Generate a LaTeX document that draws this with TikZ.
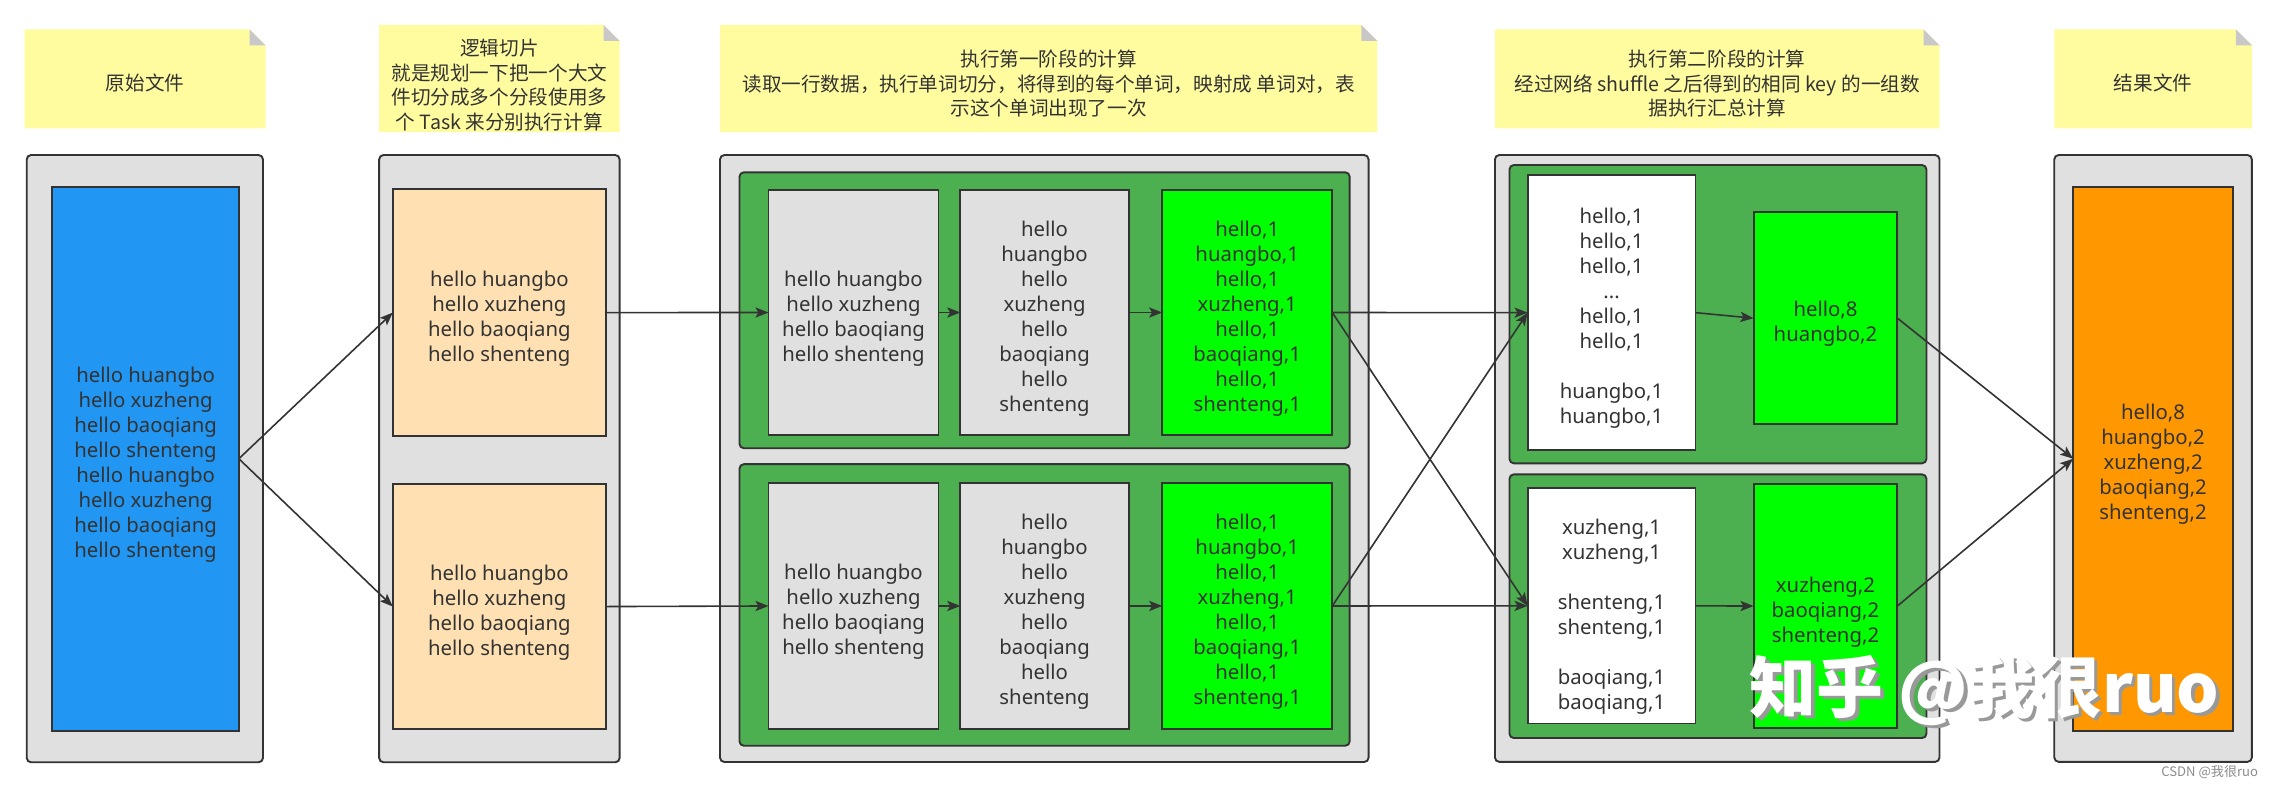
\documentclass[tikz,border=0pt]{standalone}
\usepackage{fontspec}
\setmainfont{Noto Sans}
\newfontfamily\cjk{Noto Sans CJK SC}
\usetikzlibrary{arrows.meta}
\definecolor{txt}{HTML}{333333}
\definecolor{notey}{HTML}{FFFCA0}
\definecolor{foldg}{HTML}{C8C8C8}
\definecolor{grayb}{HTML}{E0E0E0}
\definecolor{bluef}{HTML}{2196F3}
\definecolor{peach}{HTML}{FFE0B2}
\definecolor{contg}{HTML}{4CAF50}
\definecolor{brightg}{HTML}{00FF00}
\definecolor{orangef}{HTML}{FF9800}
\tikzset{
  box/.style={draw=txt, line width=1.3pt, inner sep=0pt, outer sep=0pt, text=txt,
    align=center, font=\fontsize{14}{17.2}\selectfont},
  outerbox/.style={box, fill=grayb, rounded corners=3pt},
  contbox/.style={box, fill=contg, rounded corners=3pt},
  graybox/.style={box, fill=grayb},
  bluebox/.style={box, fill=bluef},
  peachbox/.style={box, fill=peach},
  brightbox/.style={box, fill=brightg},
  whitebox/.style={box, fill=white},
  orangebox/.style={box, fill=orangef},
  notetext/.style={text=txt, align=center, inner sep=0pt, font=\cjk\fontsize{13.5}{17}\selectfont},
  conn/.style={draw=txt, line width=1.1pt, -{Stealth[length=9pt,width=7pt,inset=2pt]}},
  wmark/.style={inner sep=0pt, font=\cjk\bfseries\fontsize{46}{50}\selectfont},
}
% \rule in the first line lowers the text block a little, as in the reference
\newcommand{\mkbox}[7]{%
  \node[#6, minimum width={(#4-#2)*1pt}, minimum height={(#5-#3)*1pt}] (#1)
    at ({(#2+#4)/2},{(#3+#5)/2}) {\rule{0pt}{18.6pt}#7};}
\newcommand{\mknote}[7]{%
  \fill[notey] (#2,#3) -- ({#4-11},#3) -- (#4,{#3+11}) -- (#4,#5) -- (#2,#5) -- cycle;
  \fill[foldg] ({#4-11},#3) -- ({#4-11},{#3+11}) -- (#4,{#3+11}) -- cycle;
  \node[notetext] (#1) at ({(#2+#4)/2},#6) {#7};}
\begin{document}
\begin{tikzpicture}[x=1pt,y=-1pt]
\useasboundingbox[fill=white] (0,0) rectangle (1568,541.7);

% notes
\mknote{n1}{17}{20.2}{182.8}{88.3}{57}{原始文件}
\mknote{n2}{261}{17.2}{426.5}{91}{58.5}{逻辑切片\\就是规划一下把一个大文\\件切分成多个分段使用多\\个 Task 来分别执行计算}
\mknote{n3}{495.6}{17.2}{948}{91}{57.5}{执行第一阶段的计算\\读取一行数据，执行单词切分，将得到的每个单词，映射成 单词对，表\\示这个单词出现了一次}
\mknote{n4}{1029}{20.2}{1335}{88.3}{57.5}{执行第二阶段的计算\\经过网络 shuffle 之后得到的相同 key 的一组数\\据执行汇总计算}
\mknote{n5}{1414}{20.2}{1550}{88.3}{57}{结果文件}

% outer boxes
\mkbox{o1}{18.4}{106.7}{181}{524.7}{outerbox}{}
\mkbox{o2}{261}{106.7}{426.5}{524.7}{outerbox}{}
\mkbox{o3}{495.6}{106.7}{942}{524.5}{outerbox}{}
\mkbox{o4}{1029}{106.7}{1335}{524.4}{outerbox}{}
\mkbox{o5}{1414}{106.7}{1550}{524.4}{outerbox}{}

% column 1
\mkbox{blue}{36}{128.5}{164.4}{503}{bluebox}{hello huangbo\\hello xuzheng\\hello baoqiang\\hello shenteng\\hello huangbo\\hello xuzheng\\hello baoqiang\\hello shenteng}

% column 2
\mkbox{p1}{270.4}{130.3}{417}{300}{peachbox}{hello huangbo\\hello xuzheng\\hello baoqiang\\hello shenteng}
\mkbox{p2}{270.4}{333}{417}{502}{peachbox}{hello huangbo\\hello xuzheng\\hello baoqiang\\hello shenteng}

% column 3
\mkbox{ca}{509}{118.6}{929}{308.5}{contbox}{}
\mkbox{cb}{509}{319.5}{929}{513.3}{contbox}{}
\mkbox{a1}{529}{130.8}{646}{299.4}{graybox}{hello huangbo\\hello xuzheng\\hello baoqiang\\hello shenteng}
\mkbox{b1}{661}{130.8}{777}{299.4}{graybox}{hello\\huangbo\\hello\\xuzheng\\hello\\baoqiang\\hello\\shenteng}
\mkbox{c1}{800}{130.8}{917}{299.4}{brightbox}{hello,1\\huangbo,1\\hello,1\\xuzheng,1\\hello,1\\baoqiang,1\\hello,1\\shenteng,1}
\mkbox{a2}{529}{332.7}{646}{501.5}{graybox}{hello huangbo\\hello xuzheng\\hello baoqiang\\hello shenteng}
\mkbox{b2}{661}{332.7}{777}{501.5}{graybox}{hello\\huangbo\\hello\\xuzheng\\hello\\baoqiang\\hello\\shenteng}
\mkbox{c2}{800}{332.7}{917}{501.5}{brightbox}{hello,1\\huangbo,1\\hello,1\\xuzheng,1\\hello,1\\baoqiang,1\\hello,1\\shenteng,1}

% column 4
\mkbox{da}{1039}{113.6}{1326}{318.9}{contbox}{}
\mkbox{db}{1039}{326.5}{1326}{508}{contbox}{}
\mkbox{w1}{1051.5}{120.4}{1167}{310}{whitebox}{hello,1\\hello,1\\hello,1\\...\\hello,1\\hello,1\\\mbox{}\\huangbo,1\\huangbo,1}
\mkbox{g1}{1207}{146}{1306}{292}{brightbox}{hello,8\\huangbo,2}
\mkbox{w2}{1051.5}{336}{1167}{498}{whitebox}{\rule{0pt}{25.6pt}xuzheng,1\\xuzheng,1\\\mbox{}\\shenteng,1\\shenteng,1\\\mbox{}\\baoqiang,1\\baoqiang,1}
\mkbox{g2}{1207}{333}{1306}{501.3}{brightbox}{xuzheng,2\\baoqiang,2\\shenteng,2}

% column 5
\mkbox{res}{1427}{128.5}{1537}{503}{orangebox}{hello,8\\huangbo,2\\xuzheng,2\\baoqiang,2\\shenteng,2}

% connectors
\draw[conn] (blue.east) -- (p1.west);
\draw[conn] (blue.east) -- (p2.west);
\draw[conn] (p1.east) -- (a1.west);
\draw[conn] (p2.east) -- (a2.west);
\draw[conn] (a1.east) -- (b1.west);
\draw[conn] (b1.east) -- (c1.west);
\draw[conn] (a2.east) -- (b2.west);
\draw[conn] (b2.east) -- (c2.west);
\draw[conn] (c1.east) -- (w1.west);
\draw[conn] (c1.east) -- (w2.west);
\draw[conn] (c2.east) -- (w1.west);
\draw[conn] (c2.east) -- (w2.west);
\draw[conn] (w1.east) -- (g1.west);
\draw[conn] (w2.east) -- (g2.west);
\draw[conn] (g1.east) -- (res.west);
\draw[conn] (g2.east) -- (res.west);

% watermarks
\node[wmark, text=black!40] (wms) at (1368.5,477.5) {知乎 @我很ruo};
\node[wmark, text=white] (wm) at (1366,475) {知乎 @我很ruo};
\node[text=black!45, font=\cjk\fontsize{9}{10}\selectfont, inner sep=0pt] (csdn) at (1521,531.5) {CSDN @我很ruo};
\end{tikzpicture}
\end{document}
